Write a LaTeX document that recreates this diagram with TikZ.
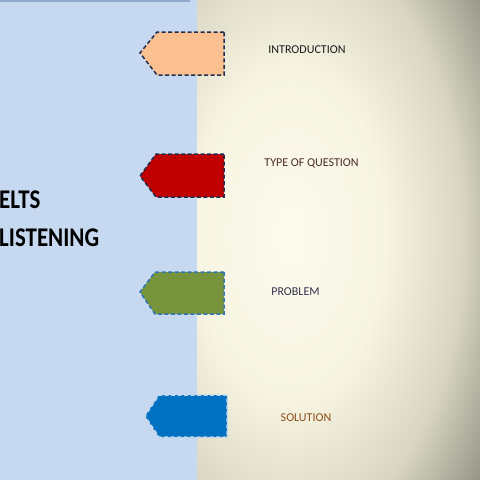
\documentclass[tikz,border=0pt]{standalone}
\usepackage{fontspec}
\setmainfont{Carlito}
\usetikzlibrary{positioning}

\definecolor{panelblue}{HTML}{C6D9F0}
\definecolor{panelline}{HTML}{8FA8CC}
\definecolor{glowA}{HTML}{FDFBEE}
\definecolor{glowB}{HTML}{F7F4E2}
\definecolor{glowC}{HTML}{D8D5C2}
\definecolor{glowD}{HTML}{A8A696}
\definecolor{glowE}{HTML}{767569}
\definecolor{glowF}{HTML}{64635A}
\definecolor{peach}{HTML}{FAC090}
\definecolor{darkred}{HTML}{C00000}
\definecolor{olive}{HTML}{77933C}
\definecolor{tabblue}{HTML}{0070C0}
\definecolor{navyline}{HTML}{1F2D50}
\definecolor{midblue}{HTML}{2E75B6}
\definecolor{paleblue}{HTML}{BDD7EE}
\definecolor{txtintro}{HTML}{1A1A1A}
\definecolor{txttype}{HTML}{4B2B2B}
\definecolor{txtprob}{HTML}{33334D}
\definecolor{txtsol}{HTML}{8B4C17}

% path bbox = inner 25bp radius of the shading
\pgfdeclareradialshading{slideglow}{\pgfpointorigin}{color(0bp)=(glowA); color(7.5bp)=(glowB); color(13.75bp)=(glowC); color(17.5bp)=(glowD); color(21.5bp)=(glowE); color(25bp)=(glowF); color(50bp)=(glowF)}

\tikzset{
  tab/.style={line width=1.5pt, dash pattern=on 4pt off 2.5pt},
  label/.style={font=\fontsize{12}{14}\selectfont, inner sep=0pt},
  title/.style={font=\fontsize{27}{30}\selectfont\bfseries, inner sep=0pt, anchor=base west, xscale=0.85}
}

\begin{document}
\begin{tikzpicture}[x=1pt,y=-1pt]
\useasboundingbox (0,0) rectangle (480,480);
% background
\begin{scope}
\clip (196,0) rectangle (480,480);
\shade[shading=slideglow] (290,235) ellipse [x radius=315pt, y radius=540pt];
\end{scope}
\fill[panelblue] (0,0) rectangle (197,480);
\draw[panelline, line width=1.5pt] (0,0.75) -- (190,0.75);

% tabs
\draw[tab, fill=peach, draw=navyline] (224,32) -- (157,32) -- (140,53) -- (157,75) -- (224,75) -- cycle;
\draw[tab, fill=darkred, draw=navyline] (224,154) -- (156,154) -- (140,176) -- (156,197) -- (224,197) -- cycle;
\draw[tab, fill=olive, draw=midblue] (224,272) -- (155,272) -- (140,292) -- (155,314) -- (224,314) -- cycle;
\draw[tab, fill=tabblue, draw=paleblue] (227,395) -- (159,395) -- (145,416) -- (159,437) -- (227,437) -- cycle;

% labels
\node[label, text=txtintro] (intro) at (307,50) {INTRODUCTION};
\node[label, text=txttype] (qtype) at (311.5,163) {TYPE OF QUESTION};
\node[label, text=txtprob] (problem) at (295.5,292) {PROBLEM};
\node[label, text=txtsol] (solution) at (306,418) {SOLUTION};

\node[title] (ielts) at (-1,208) {ELTS};
\node[title] (listening) at (-1,246) {LISTENING};
\end{tikzpicture}
\end{document}
